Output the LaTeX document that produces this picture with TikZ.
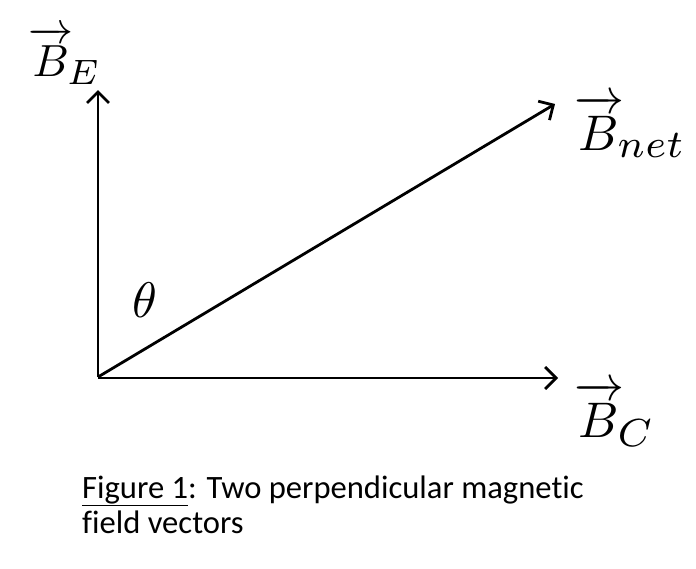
\documentclass[tikz,border=0pt]{standalone}
\usepackage{graphicx}
\usepackage{fontspec}
\setmainfont{Carlito}[Ligatures=NoCommon]
\usetikzlibrary{arrows.meta}
\newcommand{\bigmath}[2]{\scalebox{#1}{$#2$}}
\newcommand{\vB}{\overrightarrow{\rule{0pt}{8.3pt}B}}
\newcommand{\sub}[1]{\scalebox{1.12}{$\scriptstyle #1$}}
\tikzset{
  vec/.style={line width=2.8pt, -{Straight Barb[length=11pt,width=22pt,line width=2.8pt]}},
  lab/.style={inner sep=0pt},
  captxt/.style={inner sep=0pt, anchor=base west, font=\fontsize{32.6}{38}\selectfont}
}
\begin{document}
\begin{tikzpicture}[x=1pt,y=-1pt]
\useasboundingbox (0,0) rectangle (696,568);
\coordinate (O) at (98,377);
\coordinate (E) at (98,90);
\coordinate (N) at (555,104);
\coordinate (C) at (558,378);
\draw[vec] (O) -- (E);
\draw[vec] (O) -- (N);
\draw[vec] (98,378) -- (C);
\node[lab, anchor=base west] (lE) at (28,76) {\bigmath{4.5}{\vB_{\!\sub{E}}}};
\node[lab, anchor=base west] (lN) at (574,150) {\bigmath{5}{\vB_{\!\sub{net}}}};
\node[lab, anchor=base west] (lC) at (574,437) {\bigmath{5}{\vB_{\!\sub{C}}}};
\node[lab] (th) at (145,300) {\bigmath{5}{\theta}};
\node[captxt] (c1) at (82,498) {\underline{Figure 1}: Two perpendicular magnetic};
\node[captxt] (c2) at (82,533) {field vectors};
\end{tikzpicture}
\end{document}
